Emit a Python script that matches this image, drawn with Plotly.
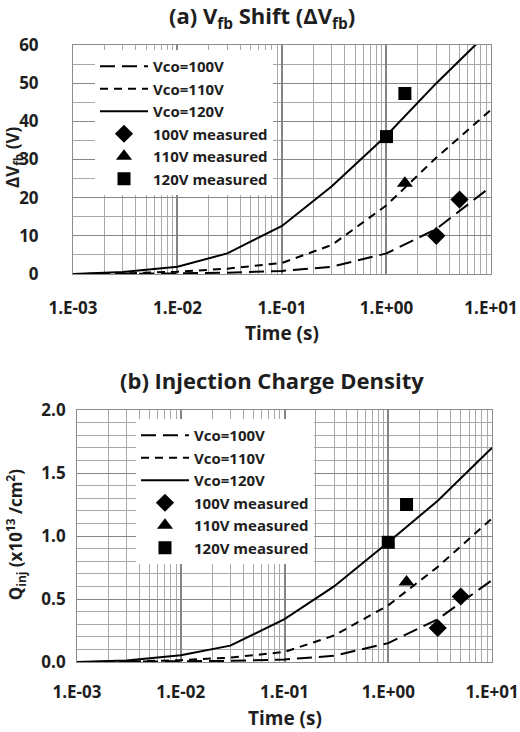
import plotly.graph_objects as go

# Tiempos de la simulacion (s)
tiempo = [1e-3, 3e-3, 1e-2, 3e-2, 1e-1, 3e-1, 1, 3, 10]

# (a) corrimiento de Vfb (V)
dvfb_100 = [0, 0.05, 0.15, 0.35, 0.8, 1.9, 5.4, 11.8, 22.9]
dvfb_110 = [0, 0.15, 0.6, 1.4, 2.9, 7.6, 18.0, 30.5, 43.0]
dvfb_120 = [0, 0.5, 1.9, 5.4, 12.6, 23.0, 36.3, 50.0, 64.0]

# (b) densidad de carga inyectada (x1e13 /cm2)
qinj_100 = [0, 0.001, 0.004, 0.009, 0.02, 0.05, 0.15, 0.34, 0.65]
qinj_110 = [0, 0.004, 0.015, 0.035, 0.08, 0.21, 0.45, 0.755, 1.14]
qinj_120 = [0, 0.012, 0.053, 0.13, 0.34, 0.60, 0.95, 1.28, 1.70]

# puntos medidos
t_med_100 = [3, 5]
t_med_110 = [1.5]
t_med_120 = [1, 1.5]
dvfb_med_100 = [10, 19.5]
dvfb_med_110 = [23.8]
dvfb_med_120 = [36, 47.3]
qinj_med_100 = [0.27, 0.52]
qinj_med_110 = [0.635]
qinj_med_120 = [0.95, 1.25]

# etiquetas del eje x
x_ticks = [1e-3, 1e-2, 1e-1, 1, 10]
x_labels = ["1.E-03", "1.E-02", "1.E-01", "1.E+00", "1.E+01"]

FONT = "Open Sans"
TXT = "#1e1e1e"
fig = go.Figure()

curvas = [
    ("Vco=100V", dict(color="black", width=2, dash="15px,7px")),
    ("Vco=110V", dict(color="black", width=2, dash="8px,6px")),
    ("Vco=120V", dict(color="black", width=2)),
]
marcas = [
    ("100V measured", "diamond", 14),
    ("110V measured", "triangle-up", 14),
    ("120V measured", "square", 13),
]

paneles = [
    ("x", "y", "legend", [dvfb_100, dvfb_110, dvfb_120],
     [(t_med_100, dvfb_med_100), (t_med_110, dvfb_med_110), (t_med_120, dvfb_med_120)]),
    ("x2", "y2", "legend2", [qinj_100, qinj_110, qinj_120],
     [(t_med_100, qinj_med_100), (t_med_110, qinj_med_110), (t_med_120, qinj_med_120)]),
]

for xa, ya, leg, series, medidos in paneles:
    for (nombre, linea), ys in zip(curvas, series):
        fig.add_trace(go.Scatter(x=tiempo, y=ys, mode="lines", name="<b>" + nombre + "</b>", line=linea,
                                 xaxis=xa, yaxis=ya, legend=leg))
    for (nombre, simbolo, tam), (xs, ys) in zip(marcas, medidos):
        fig.add_trace(go.Scatter(x=xs, y=ys, mode="markers", name="<b>" + nombre + "</b>",
                                 marker=dict(symbol=simbolo, size=tam, color="black"),
                                 xaxis=xa, yaxis=ya, legend=leg))

eje_x = dict(type="log", range=[-3, 1], tickvals=x_ticks, ticktext=["<b>" + t + "</b>" for t in x_labels],
             showgrid=True, gridcolor="#858585", gridwidth=1.5,
             minor=dict(showgrid=True, gridcolor="#a8a8a8", gridwidth=1, dtick="D1", ticks=""),
             showline=True, linecolor="#8c8c8c", mirror=True, zeroline=False, automargin=False,
             ticks="", tickfont=dict(family=FONT, size=17, color=TXT))
eje_y = dict(showgrid=True, gridcolor="#858585", gridwidth=1.2,
             showline=True, linecolor="#8c8c8c", mirror=True, zeroline=False, automargin=False,
             ticks="", tickfont=dict(family=FONT, size=17, color=TXT),
             tickprefix="<b>", ticksuffix="</b>")

leyenda = dict(bgcolor="white", borderwidth=0, xanchor="left", yanchor="top",
               itemwidth=48, tracegroupgap=0, font=dict(family=FONT, size=15, color=TXT))


def texto(t, x, y, size, angle=0):
    return dict(text="<b>" + t + "</b>", x=x, y=y, xref="paper", yref="paper", showarrow=False,
                textangle=angle, font=dict(family=FONT, size=size, color=TXT),
                xanchor="center", yanchor="middle")


fig.update_layout(
    width=520, height=732,
    margin=dict(l=0, r=0, t=0, b=0, autoexpand=False),
    paper_bgcolor="white", plot_bgcolor="white",
    showlegend=True, hovermode=False,
    xaxis=dict(eje_x, domain=[0.1404, 0.9442], anchor="y", ticklabelstandoff=19),
    yaxis=dict(eje_y, domain=[0.6257, 0.9385], anchor="x", range=[0, 60], dtick=10,
               minor=dict(showgrid=True, dtick=5, gridcolor="#a8a8a8"), ticklabelstandoff=30),
    xaxis2=dict(eje_x, domain=[0.1481, 0.9462], anchor="y2", ticklabelstandoff=15),
    yaxis2=dict(eje_y, domain=[0.0956, 0.4399], anchor="x2", range=[0, 2], dtick=0.5, tickformat=".1f",
                minor=dict(showgrid=True, dtick=0.1, gridcolor="#a8a8a8"), ticklabelstandoff=7),
    legend=dict(leyenda, x=0.1827, y=0.9317),
    legend2=dict(leyenda, x=0.2615, y=0.4276),
    annotations=[
        texto("(a) V<sub>fb</sub> Shift (ΔV<sub>fb</sub>)", 0.504, 0.9768, 22),
        texto("(b) Injection Charge Density", 0.523, 0.4809, 22),
        texto("Time (s)", 0.542, 0.545, 19),
        texto("Time (s)", 0.548, 0.0191, 19),
        texto("ΔV<sub>fb</sub> (V)", 0.025, 0.7855, 17, -90),
        texto("Q<sub>inj</sub> (x10<sup>13</sup> /cm<sup>2</sup>)", 0.029, 0.269, 17, -90),
    ],
)

# sin el margen de 8px del body, el lienzo ocupa toda la ventana
fig.write_html("out.html", config={"displayModeBar": False},
               post_script="document.body.style.margin='0px';")
